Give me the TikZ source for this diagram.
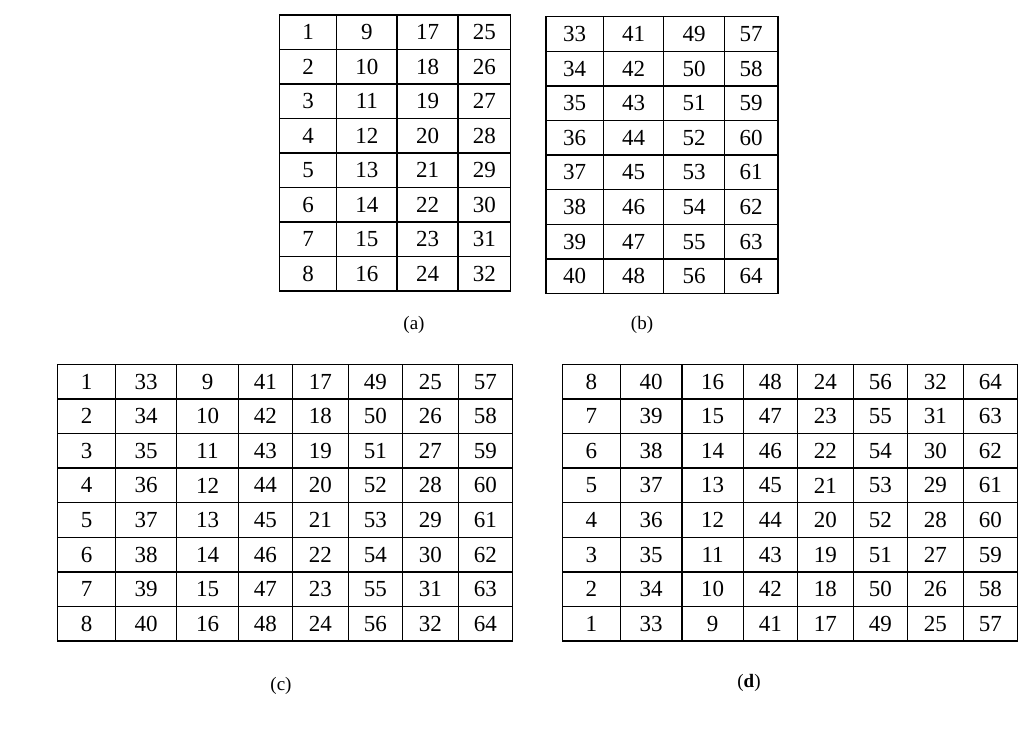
\documentclass[tikz,border=0pt]{standalone}
\usepackage{fontspec}
\setmainfont{Liberation Serif}
\begin{document}
\begin{tikzpicture}[x=1pt,y=-1pt,
  cell/.style={inner sep=0pt,font=\fontsize{23}{23}\selectfont},
  grid/.style={line width=1.3pt},
  captxt/.style={inner sep=0pt,font=\fontsize{19}{19}\selectfont}]
\useasboundingbox (0,0) rectangle (1030,729);
% table a
\foreach \xa/\xb [count=\c from 0] in {279.3/336.7,336.7/397,397/458,458/510.7}{
  \foreach \r in {1,...,8}{
    \pgfmathtruncatemacro\v{\r+8*\c}
    \pgfmathsetmacro\ya{15+(\r-1)*34.5}
    \pgfmathsetmacro\yb{15+\r*34.5}
    \draw[grid] (\xa,\ya) rectangle (\xb,\yb);
    \node[cell] (a\c-\r) at ({(\xa+\xb)/2},{(\ya+\yb)/2}) {\v};
  }}
% table b
\foreach \xa/\xb [count=\c from 0] in {546/603.3,603.3/663.7,663.7/724.3,724.3/778}{
  \foreach \r in {1,...,8}{
    \pgfmathtruncatemacro\v{32+\r+8*\c}
    \pgfmathsetmacro\ya{16.7+(\r-1)*34.6}
    \pgfmathsetmacro\yb{16.7+\r*34.6}
    \draw[grid] (\xa,\ya) rectangle (\xb,\yb);
    \node[cell] (b\c-\r) at ({(\xa+\xb)/2},{(\ya+\yb)/2}) {\v};
  }}
% table c
\foreach \xa/\xb [count=\c from 0] in {57.7/115.3,115.3/176.7,176.7/238.3,238.3/292.3,292.3/348.3,348.3/402.3,402.3/458.3,458.3/512.3}{
  \foreach \r in {1,...,8}{
    \pgfmathtruncatemacro\v{\r+8*int(\c/2)+32*mod(\c,2)}
    \pgfmathsetmacro\ya{364.3+(\r-1)*34.6}
    \pgfmathsetmacro\yb{364.3+\r*34.6}
    \draw[grid] (\xa,\ya) rectangle (\xb,\yb);
    \node[cell] (c\c-\r) at ({(\xa+\xb)/2},{(\ya+\yb)/2}) {\v};
  }}
% table d
\foreach \xa/\xb [count=\c from 0] in {562.3/620.3,620.3/682,682/743.3,743.3/797.3,797.3/853.3,853.3/907.3,907.3/963.3,963.3/1017.3}{
  \foreach \r in {1,...,8}{
    \pgfmathtruncatemacro\v{9-\r+8*int(\c/2)+32*mod(\c,2)}
    \pgfmathsetmacro\ya{364.3+(\r-1)*34.6}
    \pgfmathsetmacro\yb{364.3+\r*34.6}
    \draw[grid] (\xa,\ya) rectangle (\xb,\yb);
    \node[cell] (d\c-\r) at ({(\xa+\xb)/2},{(\ya+\yb)/2}) {\v};
  }}
\node[captxt] (la) at (414,325) {(a)};
\node[captxt] (lb) at (642,325) {(b)};
\node[captxt] (lc) at (281,686) {(c)};
\node[captxt] (ld) at (749,683) {(\textbf{d})};
\end{tikzpicture}
\end{document}
